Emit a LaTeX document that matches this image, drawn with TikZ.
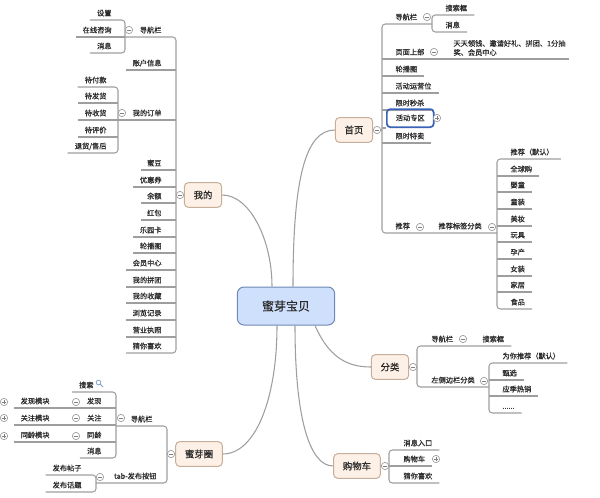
\documentclass[tikz,border=0pt]{standalone}
\usepackage{fontspec}
\setmainfont{Noto Sans CJK SC}[FakeBold=0.7]
\definecolor{linec}{HTML}{9E9E9E}
\definecolor{txt}{HTML}{2B2B2B}
\definecolor{topicfill}{HTML}{FDF0E6}
\definecolor{topicdraw}{HTML}{C7AE99}
\definecolor{rootfill}{HTML}{CFE0FC}
\definecolor{rootdraw}{HTML}{6F88B5}
\definecolor{hilite}{HTML}{3A62B8}
\definecolor{magc}{HTML}{7FA0C4}

\tikzset{every picture/.style={line width=0.75pt}}
\tikzset{
  ln/.style={draw=linec, line width=0.8pt, rounded corners=2.5pt},
  curve/.style={draw=linec, line width=0.8pt},
  root/.style={draw=rootdraw, fill=rootfill, rounded corners=5pt, minimum width=73pt, minimum height=28.5pt, font=\fontsize{9}{10}\selectfont, text=txt},
  topic/.style={draw=topicdraw, fill=topicfill, rounded corners=3pt, inner xsep=7pt, minimum height=18.5pt, font=\fontsize{7}{8}\selectfont, text=txt},
  leaf/.style={inner xsep=0pt, inner ysep=2pt, text height=4.6pt, text depth=0.8pt, font=\fontsize{5.4}{6.5}\selectfont, text=txt},
  note/.style={inner xsep=0pt, inner ysep=2pt, align=left, font=\fontsize{5.4}{6.8}\selectfont, text=txt},
  hilitebox/.style={leaf, draw=hilite, line width=1.3pt, rounded corners=2.5pt, inner xsep=6.75pt, minimum height=13.5pt},
  fold/.style={circle, draw=linec, fill=white, inner sep=0pt, minimum size=5.5pt, line width=0.5pt,
    path picture={\draw[gray, line width=0.4pt] ([xshift=-1.6pt]path picture bounding box.center) -- ([xshift=1.6pt]path picture bounding box.center);}},
  unfold/.style={circle, draw=linec, fill=white, inner sep=0pt, minimum size=5.5pt, line width=0.5pt,
    path picture={\draw[gray, line width=0.4pt] ([xshift=-1.4pt]path picture bounding box.center) -- ([xshift=1.4pt]path picture bounding box.center) ([yshift=-1.4pt]path picture bounding box.center) -- ([yshift=1.4pt]path picture bounding box.center);}}
}

\begin{document}
\begin{tikzpicture}[x=0.75pt,y=0.75pt,yscale=-1,xscale=1]
\useasboundingbox (0,0) rectangle (600,497);

%Root and main topics
\node[root] (root) at (286,306) {蜜芽宝贝};
\node[topic] (sy) at (354,130) {首页};
\node[topic] (wd) at (203,195) {我的};
\node[topic] (fl) at (390,367) {分类};
\node[topic] (gw) at (357,466) {购物车};
\node[topic] (my) at (199,454) {蜜芽圈};

%Curve Lines
\draw[curve] ([xshift=-10.5pt]root.north) .. controls (272,240) and (250,195) .. (wd.east);
\draw[curve] ([xshift=5.25pt]root.north) .. controls (293,180) and (305,130) .. (sy.west);
\draw[curve] ([xshift=21.75pt]root.south) .. controls (328,355) and (345,367) .. (fl.west);
\draw[curve] ([xshift=6.75pt]root.south) .. controls (295,420) and (310,466) .. (gw.west);
\draw[curve] ([xshift=-6.75pt]root.south) .. controls (277,400) and (255,454) .. (my.east);

% ---- 首页
\coordinate (syb) at (382,130);
\coordinate (s1b) at (432,24);
\coordinate (s81b) at (497,233);
\node[leaf, anchor=south west] (s1) at (395,24) {导航栏};
\node[leaf, anchor=south west] (s11) at (445,15) {搜索框};
\node[leaf, anchor=south west] (s12) at (445,32) {消息};
\node[leaf, anchor=south west] (s2) at (395,59) {页面上部};
\node[note, anchor=south west] (s21) at (453,59) {天天领钱、邀请好礼、拼团、1分抽\\奖、会员中心};
\node[leaf, anchor=south west] (s3) at (395,76) {轮播图};
\node[leaf, anchor=south west] (s4) at (395,93) {活动运营位};
\node[leaf, anchor=south west] (s5) at (395,110) {限时秒杀};
\node[leaf, anchor=south west] (s7) at (395,143) {限时特卖};
\node[leaf, anchor=south west] (s8) at (395,233) {推荐};
\node[leaf, anchor=south west] (s81) at (438,233) {推荐标签分类};
\node[leaf, anchor=south west] (t1) at (510,159) {推荐（默认）};
\node[leaf, anchor=south west] (t2) at (510,176) {全球购};
\node[leaf, anchor=south west] (t3) at (510,192) {婴童};
\node[leaf, anchor=south west] (t4) at (510,209) {童装};
\node[leaf, anchor=south west] (t5) at (510,226) {美妆};
\node[leaf, anchor=south west] (t6) at (510,242) {玩具};
\node[leaf, anchor=south west] (t7) at (510,259) {孕产};
\node[leaf, anchor=south west] (t8) at (510,276) {女装};
\node[leaf, anchor=south west] (t9) at (510,292) {家居};
\node[leaf, anchor=south west] (t10) at (510,309) {食品};

\draw[ln] (sy.east) -- (syb);
\draw[ln] (s1b) -- (syb |- s1.south) -- (syb |- s8.south) -- (s81b);
\draw[ln] ([xshift=5pt]s11.south east) -- (s1b |- s11.south) -- (s1b |- s12.south) -- ([xshift=5pt]s12.south east);
\draw[ln] (syb |- s2.south) -- ([xshift=2pt]s21.south east);
\draw[ln] (syb |- s3.south) -- ([xshift=5pt]s3.south east);
\draw[ln] (syb |- s4.south) -- ([xshift=5pt]s4.south east);
\draw[ln] (syb |- s5.south) -- ([xshift=5pt]s5.south east);
\draw[ln] (syb |- s7.south) -- ([xshift=5pt]s7.south east);
\node[hilitebox, anchor=south west] (s6) at (386,128) {活动专区};
\draw[ln] (syb |- s6.south) -- (s6.south west);
\draw[ln] ([xshift=5pt]t1.south east) -- (s81b |- t1.south) -- (s81b |- t10.south) -- ([xshift=5pt]t10.south east);
\draw[ln] (s81b |- t2.south) -- ([xshift=5pt]t2.south east);
\draw[ln] (s81b |- t3.south) -- ([xshift=5pt]t3.south east);
\draw[ln] (s81b |- t4.south) -- ([xshift=5pt]t4.south east);
\draw[ln] (s81b |- t5.south) -- ([xshift=5pt]t5.south east);
\draw[ln] (s81b |- t6.south) -- ([xshift=5pt]t6.south east);
\draw[ln] (s81b |- t7.south) -- ([xshift=5pt]t7.south east);
\draw[ln] (s81b |- t8.south) -- ([xshift=5pt]t8.south east);
\draw[ln] (s81b |- t9.south) -- ([xshift=5pt]t9.south east);

\node[fold] (f1) at (377,130) {};
\node[fold] (f11) at (427,17) {};
\node[fold] (f12) at (434,52) {};
\node[unfold] (f16) at (437,118) {};
\node[fold] (f18) at (420,227) {};
\node[fold] (f181) at (492,227) {};

% ---- 我的
\coordinate (wdb) at (176,195);
\coordinate (w1b) at (125,37);
\coordinate (w3b) at (118,120);
\node[leaf, anchor=south east] (w1) at (162,37) {导航栏};
\node[leaf, anchor=south east] (w11) at (112,20) {设置};
\node[leaf, anchor=south east] (w12) at (112,37) {在线咨询};
\node[leaf, anchor=south east] (w13) at (112,53) {消息};
\node[leaf, anchor=south east] (w2) at (162,70) {账户信息};
\node[leaf, anchor=south east] (w3) at (162,120) {我的订单};
\node[leaf, anchor=south east] (w31) at (107,87) {待付款};
\node[leaf, anchor=south east] (w32) at (107,103) {待发货};
\node[leaf, anchor=south east] (w33) at (107,120) {待收货};
\node[leaf, anchor=south east] (w34) at (107,137) {待评价};
\node[leaf, anchor=south east] (w35) at (107,153) {退货/售后};
\node[leaf, anchor=south east] (w4) at (162,170) {蜜豆};
\node[leaf, anchor=south east] (w5) at (162,187) {优惠券};
\node[leaf, anchor=south east] (w6) at (162,203) {余额};
\node[leaf, anchor=south east] (w7) at (162,220) {红包};
\node[leaf, anchor=south east] (w8) at (162,237) {乐园卡};
\node[leaf, anchor=south east] (w9) at (162,253) {轮播图};
\node[leaf, anchor=south east] (w10) at (162,270) {会员中心};
\node[leaf, anchor=south east] (w11b) at (162,287) {我的拼团};
\node[leaf, anchor=south east] (w12b) at (162,303) {我的收藏};
\node[leaf, anchor=south east] (w13b) at (162,320) {浏览记录};
\node[leaf, anchor=south east] (w14) at (162,337) {营业执照};
\node[leaf, anchor=south east] (w15) at (162,353) {猜你喜欢};

\draw[ln] (wd.west) -- (wdb);
\draw[ln] (w1b) -- (wdb |- w1.south) -- (wdb |- w15.south) -- ([xshift=-4.5pt]w15.south west);
\draw[ln] ([xshift=-5pt]w11.south west) -- (w1b |- w11.south) -- (w1b |- w13.south) -- ([xshift=-5pt]w13.south west);
\draw[ln] (w1b |- w12.south) -- ([xshift=-5pt]w12.south west);
\draw[ln] (wdb |- w2.south) -- ([xshift=-5pt]w2.south west);
\draw[ln] (wdb |- w3.south) -- (w3b);
\draw[ln] ([xshift=-5pt]w31.south west) -- (w3b |- w31.south) -- (w3b |- w35.south) -- ([xshift=-5pt]w35.south west);
\draw[ln] (w3b |- w32.south) -- ([xshift=-5pt]w32.south west);
\draw[ln] (w3b |- w33.south) -- ([xshift=-5pt]w33.south west);
\draw[ln] (w3b |- w34.south) -- ([xshift=-5pt]w34.south west);
\draw[ln] (wdb |- w4.south) -- ([xshift=-4.5pt]w4.south west);
\draw[ln] (wdb |- w5.south) -- ([xshift=-4.5pt]w5.south west);
\draw[ln] (wdb |- w6.south) -- ([xshift=-4.5pt]w6.south west);
\draw[ln] (wdb |- w7.south) -- ([xshift=-4.5pt]w7.south west);
\draw[ln] (wdb |- w8.south) -- ([xshift=-4.5pt]w8.south west);
\draw[ln] (wdb |- w9.south) -- ([xshift=-4.5pt]w9.south west);
\draw[ln] (wdb |- w10.south) -- ([xshift=-4.5pt]w10.south west);
\draw[ln] (wdb |- w11b.south) -- ([xshift=-4.5pt]w11b.south west);
\draw[ln] (wdb |- w12b.south) -- ([xshift=-4.5pt]w12b.south west);
\draw[ln] (wdb |- w13b.south) -- ([xshift=-4.5pt]w13b.south west);
\draw[ln] (wdb |- w14.south) -- ([xshift=-4.5pt]w14.south west);

\node[fold] (f2) at (180,195) {};
\node[fold] (f21) at (129,30) {};
\node[fold] (f23) at (122,113) {};

% ---- 分类
\coordinate (flb) at (417,367);
\coordinate (c2b) at (489,387);
\node[leaf, anchor=south west] (c1) at (431,346) {导航栏};
\node[leaf, anchor=south west] (c11) at (482,346) {搜索框};
\node[leaf, anchor=south west] (c2) at (431,387) {左侧边栏分类};
\node[leaf, anchor=south west] (c21) at (502,363) {为你推荐（默认）};
\node[leaf, anchor=south west] (c22) at (502,380) {甄选};
\node[leaf, anchor=south west] (c23) at (502,396) {应季热销};
\node[leaf, anchor=south west] (c24) at (502,413) {......};

\draw[ln] (fl.east) -- (flb);
\draw[ln] ([xshift=5pt]c11.south east) -- (flb |- c1.south) -- (flb |- c2.south) -- (c2b);
\draw[ln] ([xshift=5pt]c21.south east) -- (c2b |- c21.south) -- (c2b |- c24.south) -- ([xshift=5pt]c24.south east);
\draw[ln] (c2b |- c22.south) -- ([xshift=5pt]c22.south east);
\draw[ln] (c2b |- c23.south) -- ([xshift=5pt]c23.south east);

\node[fold] (f3) at (413,367) {};
\node[fold] (f31) at (463,339) {};
\node[fold] (f32) at (484,381) {};

% ---- 购物车
\coordinate (gwb) at (389,466);
\node[leaf, anchor=south west] (g1) at (403,450) {消息入口};
\node[leaf, anchor=south west] (g2) at (403,466) {购物车};
\node[leaf, anchor=south west] (g3) at (403,483) {猜你喜欢};

\draw[ln] (gw.east) -- (gwb);
\draw[ln] ([xshift=5pt]g1.south east) -- (gwb |- g1.south) -- (gwb |- g3.south) -- ([xshift=5pt]g3.south east);
\draw[ln] (gwb |- g2.south) -- ([xshift=5pt]g2.south east);

\node[fold] (f4) at (385,466) {};
\node[unfold] (f42) at (436,459) {};

% ---- 蜜芽圈
\coordinate (myb) at (167,454);
\coordinate (m1b) at (116,426);
\coordinate (m2b) at (96,483);
\node[leaf, anchor=south east] (m1) at (153,426) {导航栏};
\node[leaf, anchor=south east] (m11) at (94,392) {搜索};
\node[leaf, anchor=south east] (m12) at (102,408) {发现};
\node[leaf, anchor=south east] (m121) at (50,408) {发现模块};
\node[leaf, anchor=south east] (m13) at (102,425) {关注};
\node[leaf, anchor=south east] (m131) at (50,425) {关注模块};
\node[leaf, anchor=south east] (m14) at (102,442) {同龄};
\node[leaf, anchor=south east] (m141) at (50,442) {同龄模块};
\node[leaf, anchor=south east] (m15) at (102,458) {消息};
\node[leaf, anchor=south east] (m2) at (157,483) {tab-发布按钮};
\node[leaf, anchor=south east] (m21) at (82,475) {发布帖子};
\node[leaf, anchor=south east] (m22) at (82,492) {发布话题};

%magnifier icon
\draw[magc, line width=0.6pt] (98.5,382.5) circle (2.3) (100.3,384.3) -- (103,387);

\draw[ln] (my.west) -- (myb);
\draw[ln] (m1b) -- (myb |- m1.south) -- (myb |- m2.south) -- (m2b);
\draw[ln] ([xshift=-5pt]m11.south west) -- (m1b |- m11.south) -- (m1b |- m15.south) -- ([xshift=-5pt]m15.south west);
\draw[ln] (m1b |- m12.south) -- ([xshift=-5pt]m121.south west);
\draw[ln] (m1b |- m13.south) -- ([xshift=-5pt]m131.south west);
\draw[ln] (m1b |- m14.south) -- ([xshift=-5pt]m141.south west);
\draw[ln] ([xshift=-5pt]m21.south west) -- (m2b |- m21.south) -- (m2b |- m22.south) -- ([xshift=-5pt]m22.south west);

\node[fold] (f5) at (171,454) {};
\node[fold] (f51) at (121,418) {};
\node[fold] (f512) at (76,402) {};
\node[fold] (f513) at (76,418) {};
\node[fold] (f514) at (76,436) {};
\node[unfold] (f5121) at (4,402) {};
\node[unfold] (f5131) at (4,418) {};
\node[unfold] (f5141) at (4,436) {};
\node[fold] (f52) at (100,477) {};

\end{tikzpicture}
\end{document}
